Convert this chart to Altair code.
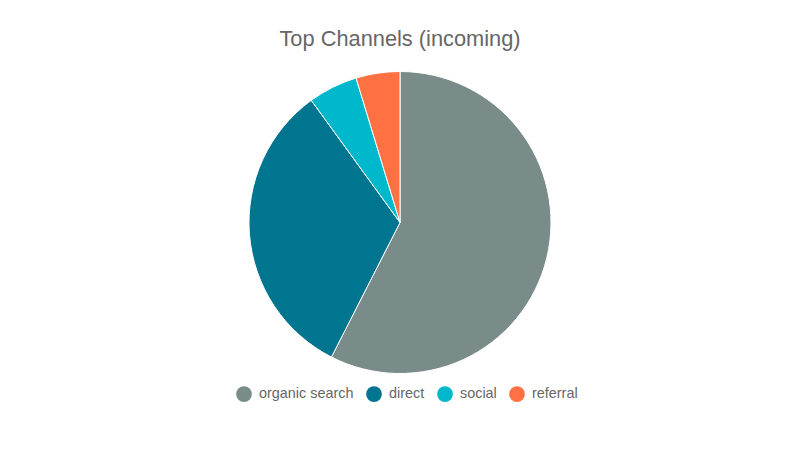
import altair as alt
import pandas as pd

channels = ["organic search", "direct", "social", "referral"]
shares = [57.5, 32.5, 5.3, 4.7]
colors = ["#7a8c89", "#00758f", "#00b8cc", "#ff7043"]
order = [0, 1, 2, 3]

df = pd.DataFrame({"channel": channels, "share": shares, "ord": order})

chart = alt.Chart(df).mark_arc(outerRadius=151, stroke="white", strokeWidth=1).encode(
    theta=alt.Theta("share:Q", stack=True),
    order=alt.Order("ord:Q", sort="ascending"),
    x=alt.value(392),
    y=alt.value(214.5),
    color=alt.Color(
        "channel:N",
        scale=alt.Scale(domain=channels, range=colors),
        sort=channels,
        legend=alt.Legend(
            title=None,
            orient="none",
            legendX=228,
            legendY=378,
            direction="horizontal",
            symbolType="circle",
            symbolSize=250,
            symbolStrokeWidth=0,
            labelFontSize=14.4,
            labelColor="#666666",
            labelFont="Liberation Sans",
            columnPadding=12,
            labelOffset=7,
        ),
    ),
    tooltip=["channel", "share"],
).properties(
    width=784,
    height=434,
    autosize=alt.AutoSizeParams(type="none"),
    padding=0,
    title=alt.TitleParams(
        "Top Channels (incoming)",
        fontSize=21.8,
        font="Liberation Sans",
        fontWeight="normal",
        color="#666666",
        anchor="middle",
        frame="group",
        baseline="alphabetic",
        offset=0,
        dy=60,
    ),
).configure_view(stroke=None)

chart.save("out.html", embed_options={"renderer": "svg", "actions": False})
